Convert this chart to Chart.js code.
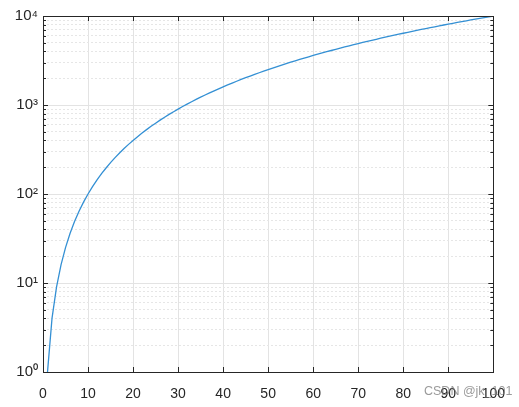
<!DOCTYPE html>
<html lang="en">
<head>
  <meta charset="UTF-8">
  <title>semilogy y = x^2</title>
  <script src="https://cdn.jsdelivr.net/npm/chart.js@4"></script>
  <style>
    body { margin: 0; background: #fff; }
    #wrap { position: relative; width: 519px; height: 407px; }
    #mark { position: absolute; left: 424px; top: 384px; font: 12.5px "Liberation Sans", Arial, sans-serif; color: rgba(120,120,120,0.75); white-space: nowrap; }
  </style>
</head>
<body>
<div id="wrap">
  <canvas id="chart"></canvas>
  <div id="mark">CSDN @jk_101</div>
</div>
<script>
  // curve points (x, y)
  const xVals = [1,2,3,4,5,6,7,8,9,10,11,12,13,14,15,16,17,18,19,20,
    21,22,23,24,25,26,27,28,29,30,31,32,33,34,35,36,37,38,39,40,
    41,42,43,44,45,46,47,48,49,50,51,52,53,54,55,56,57,58,59,60,
    61,62,63,64,65,66,67,68,69,70,71,72,73,74,75,76,77,78,79,80,
    81,82,83,84,85,86,87,88,89,90,91,92,93,94,95,96,97,98,99,100];
  const yVals = [1,4,9,16,25,36,49,64,81,100,121,144,169,196,225,256,289,324,361,400,
    441,484,529,576,625,676,729,784,841,900,961,1024,1089,1156,1225,1296,1369,1444,1521,1600,
    1681,1764,1849,1936,2025,2116,2209,2304,2401,2500,2601,2704,2809,2916,3025,3136,3249,3364,3481,3600,
    3721,3844,3969,4096,4225,4356,4489,4624,4761,4900,5041,5184,5329,5476,5625,5776,5929,6084,6241,6400,
    6561,6724,6889,7056,7225,7396,7569,7744,7921,8100,8281,8464,8649,8836,9025,9216,9409,9604,9801,10000];

  const xTicks = [0,10,20,30,40,50,60,70,80,90,100];
  const yMajor = [1,10,100,1000,10000];
  const yLabels = ['10⁰','10¹','10²','10³','10⁴'];
  const yMinor = [];
  for (let d = 1; d < 10000; d *= 10) {
    for (let m = 2; m <= 9; m++) yMinor.push(m * d);
  }

  const axisColor = '#262626';
  const tickFont = { family: '"Liberation Sans", Arial, sans-serif', size: 14 };

  // MATLAB-like box with inward ticks
  const boxPlugin = {
    id: 'box',
    afterDatasetsDraw(chart) {
      const { ctx, chartArea: a, scales } = chart;
      ctx.save();
      ctx.strokeStyle = axisColor;
      ctx.lineWidth = 1;
      ctx.beginPath();
      scales.x.ticks.forEach(t => {
        const px = Math.round(scales.x.getPixelForValue(t.value)) + 0.5;
        ctx.moveTo(px, a.bottom); ctx.lineTo(px, a.bottom - 5);
        ctx.moveTo(px, a.top); ctx.lineTo(px, a.top + 5);
      });
      scales.y.ticks.forEach(t => {
        const py = Math.round(scales.y.getPixelForValue(t.value)) + 0.5;
        ctx.moveTo(a.left, py); ctx.lineTo(a.left + 5, py);
        ctx.moveTo(a.right, py); ctx.lineTo(a.right - 5, py);
      });
      scales.yMinor.ticks.forEach(t => {
        const py = Math.round(scales.yMinor.getPixelForValue(t.value)) + 0.5;
        ctx.moveTo(a.left, py); ctx.lineTo(a.left + 3, py);
        ctx.moveTo(a.right, py); ctx.lineTo(a.right - 3, py);
      });
      ctx.stroke();
      ctx.strokeRect(Math.round(a.left) + 0.5, Math.round(a.top) + 0.5,
        Math.round(a.right - a.left), Math.round(a.bottom - a.top));
      ctx.restore();
    }
  };

  new Chart(document.getElementById('chart'), {
    type: 'line',
    data: {
      datasets: [{
        data: xVals.map((x, i) => ({ x: x, y: yVals[i] })),
        borderColor: '#3490d4',
        borderWidth: 1.3,
        pointRadius: 0,
        tension: 0,
        fill: false
      }]
    },
    options: {
      responsive: true,
      maintainAspectRatio: false,
      animation: false,
      layout: { padding: { top: 16, right: 24, left: 0, bottom: 0 } },
      plugins: { legend: { display: false }, tooltip: { enabled: false } },
      scales: {
        x: {
          type: 'linear',
          min: 0, max: 100,
          afterBuildTicks: s => { s.ticks = xTicks.map(v => ({ value: v })); },
          afterFit: s => { s.height = 35; },
          grid: { color: '#e3e3e3', drawTicks: false },
          border: { display: false },
          ticks: { color: axisColor, font: tickFont, padding: 14, maxRotation: 0 }
        },
        y: {
          type: 'logarithmic',
          min: 1, max: 10000,
          afterBuildTicks: s => { s.ticks = yMajor.map(v => ({ value: v })); },
          afterFit: s => { s.width = 43; },
          grid: { color: '#e3e3e3', drawTicks: false },
          border: { display: false },
          ticks: {
            color: axisColor, font: { family: tickFont.family, size: 15 }, padding: 5,
            callback: (v) => yLabels[yMajor.indexOf(v)]
          }
        },
        yMinor: {
          type: 'logarithmic',
          position: 'left',
          min: 1, max: 10000,
          afterBuildTicks: s => { s.ticks = yMinor.map(v => ({ value: v })); },
          afterFit: s => { s.width = 0; },
          grid: { color: '#e6e6e6', drawTicks: false },
          border: { display: false, dash: [2, 2] },
          ticks: { display: false }
        }
      }
    },
    plugins: [boxPlugin]
  });
</script>
</body>
</html>
